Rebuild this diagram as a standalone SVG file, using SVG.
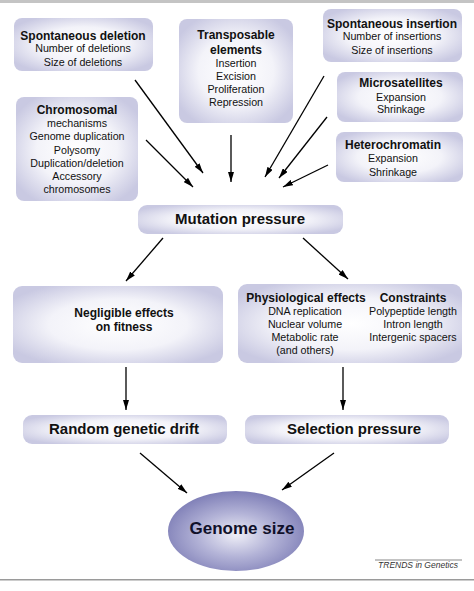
<svg xmlns="http://www.w3.org/2000/svg" width="474" height="591" viewBox="0 0 474 591">
<defs>
<radialGradient id="bg" cx="0.5" cy="0.5" r="0.6">
<stop offset="0" stop-color="#ffffff"/>
<stop offset="0.55" stop-color="#f3f3f9"/>
<stop offset="1" stop-color="#c9c9e2"/>
</radialGradient>
<radialGradient id="eg" cx="0.5" cy="0.55" r="0.55">
<stop offset="0" stop-color="#eeeef7"/>
<stop offset="0.5" stop-color="#b3b3d7"/>
<stop offset="1" stop-color="#7f7fb7"/>
</radialGradient>
<marker id="ah" viewBox="0 0 10 6" refX="10" refY="3" markerWidth="10" markerHeight="6" markerUnits="userSpaceOnUse" orient="auto">
<path d="M0,0 L10,3 L0,6 Z" fill="#000"/>
</marker>
</defs>
<style>
.box{fill:url(#bg);}
.t{font-family:"Liberation Sans",Arial,sans-serif;font-weight:bold;font-size:12px;fill:#111;text-anchor:middle;}
.s{font-family:"Liberation Sans",Arial,sans-serif;font-size:10.7px;fill:#111;text-anchor:middle;}
.b{font-family:"Liberation Sans",Arial,sans-serif;font-weight:bold;font-size:15px;fill:#111;text-anchor:middle;}
.c line{stroke:#000;stroke-width:1.3;marker-end:url(#ah);}
</style>
<rect x="0" y="0" width="474" height="3" fill="#c4c4c4"/>
<rect x="0" y="579" width="474" height="1.5" fill="#9a9a9a"/>

<g id="spont-deletion">
<rect class="box" x="14" y="18" width="139" height="53" rx="8"/>
<text class="t" x="83" y="40">Spontaneous deletion</text>
<text class="s" x="83" y="52">Number of deletions</text>
<text class="s" x="83" y="66">Size of deletions</text>
</g>
<g id="transposable">
<rect class="box" x="179" y="19" width="114" height="104" rx="8"/>
<text class="t" x="236" y="39">Transposable</text>
<text class="t" x="236" y="54">elements</text>
<text class="s" x="236" y="67">Insertion</text>
<text class="s" x="236" y="80">Excision</text>
<text class="s" x="236" y="93">Proliferation</text>
<text class="s" x="236" y="106">Repression</text>
</g>
<g id="chromosomal">
<rect class="box" x="16" y="97" width="122" height="104" rx="8"/>
<text class="t" x="77" y="114">Chromosomal</text>
<text class="s" x="77" y="127">mechanisms</text>
<text class="s" x="77" y="140">Genome duplication</text>
<text class="s" x="77" y="154">Polysomy</text>
<text class="s" x="77" y="167">Duplication/deletion</text>
<text class="s" x="77" y="180">Accessory</text>
<text class="s" x="77" y="193">chromosomes</text>
</g>
<g id="spont-insertion">
<rect class="box" x="323" y="9" width="139" height="53" rx="8"/>
<text class="t" x="392" y="28">Spontaneous insertion</text>
<text class="s" x="392" y="40">Number of insertions</text>
<text class="s" x="392" y="54">Size of insertions</text>
</g>
<g id="microsatellites">
<rect class="box" x="337" y="72" width="126" height="50" rx="8"/>
<text class="t" x="401" y="87">Microsatellites</text>
<text class="s" x="401" y="101">Expansion</text>
<text class="s" x="401" y="113">Shrinkage</text>
</g>
<g id="heterochromatin">
<rect class="box" x="336" y="132" width="127" height="50" rx="8"/>
<text class="t" x="393" y="149">Heterochromatin</text>
<text class="s" x="393" y="162">Expansion</text>
<text class="s" x="393" y="176">Shrinkage</text>
</g>
<g id="mutation-pressure">
<rect class="box" x="138" y="205" width="205" height="29" rx="9"/>
<text class="b" x="240" y="224">Mutation pressure</text>
</g>
<g id="negligible">
<rect class="box" x="13" y="286" width="210" height="77" rx="9"/>
<text class="t" x="124" y="317">Negligible effects</text>
<text class="t" x="124" y="331">on fitness</text>
</g>
<g id="physiological">
<rect class="box" x="238" y="284" width="224" height="79" rx="9"/>
<text class="t" x="306" y="302">Physiological effects</text>
<text class="s" x="305" y="315">DNA replication</text>
<text class="s" x="305" y="328">Nuclear volume</text>
<text class="s" x="305" y="341">Metabolic rate</text>
<text class="s" x="305" y="354">(and others)</text>
<text class="t" x="413" y="302">Constraints</text>
<text class="s" x="413" y="315">Polypeptide length</text>
<text class="s" x="413" y="328">Intron length</text>
<text class="s" x="413" y="341">Intergenic spacers</text>
</g>
<g id="random-drift">
<rect class="box" x="23" y="415" width="204" height="29" rx="9"/>
<text class="b" x="124" y="434">Random genetic drift</text>
</g>
<g id="selection-pressure">
<rect class="box" x="245" y="415" width="204" height="29" rx="9"/>
<text class="b" x="354" y="434">Selection pressure</text>
</g>
<g id="genome-size">
<ellipse cx="236" cy="531" rx="68" ry="40" fill="url(#eg)"/>
<text class="b" x="242" y="534" style="font-size:17px;fill:#10102a">Genome size</text>
</g>

<g id="connectors" class="c">
<line x1="135" y1="80" x2="203" y2="173"/>
<line x1="146" y1="140" x2="193" y2="187"/>
<line x1="231" y1="135" x2="231" y2="182"/>
<line x1="324" y1="76" x2="265" y2="177"/>
<line x1="327" y1="117" x2="279" y2="178"/>
<line x1="328" y1="165" x2="283" y2="187"/>
<line x1="163" y1="238" x2="126" y2="281"/>
<line x1="303" y1="238" x2="348" y2="279"/>
<line x1="126" y1="367" x2="126" y2="410"/>
<line x1="343" y1="367" x2="343" y2="410"/>
<line x1="140" y1="453" x2="187" y2="493"/>
<line x1="334" y1="453" x2="282" y2="490"/>
</g>

<g id="credit">
<line x1="375" y1="560" x2="462" y2="560" stroke="#555" stroke-width="0.7"/>
<text x="418" y="568" style="font-family:'Liberation Sans',Arial,sans-serif;font-style:italic;font-size:8.5px;fill:#333;text-anchor:middle">TRENDS in Genetics</text>
</g>
</svg>
